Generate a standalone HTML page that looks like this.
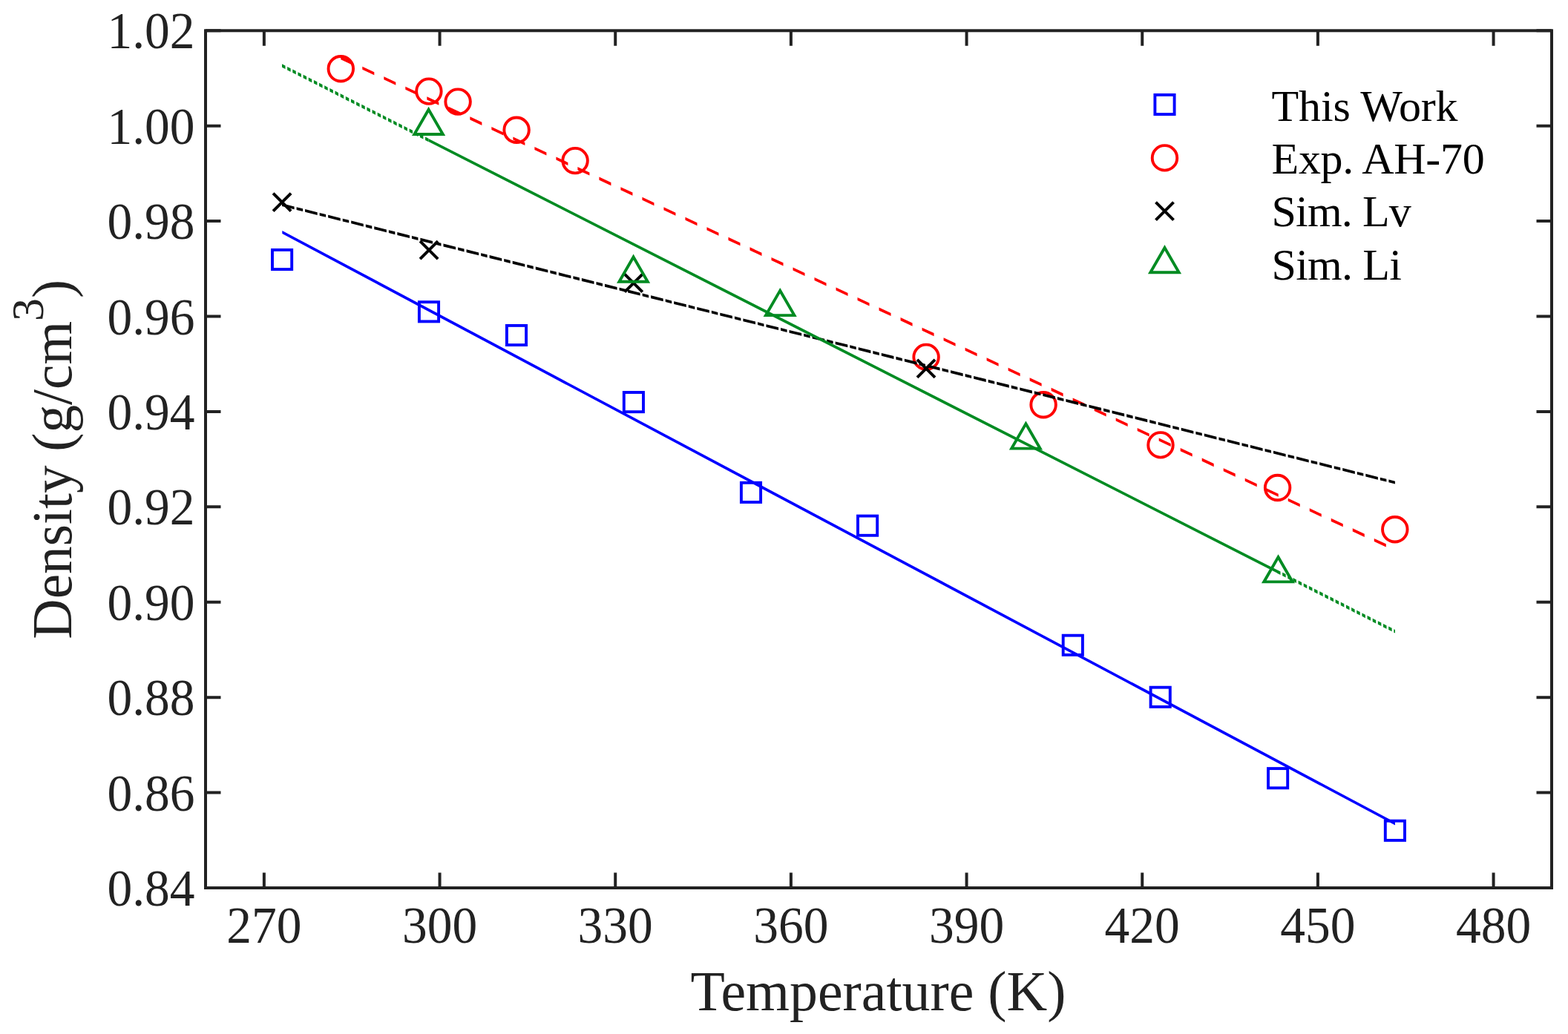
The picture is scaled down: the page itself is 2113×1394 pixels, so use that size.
<!DOCTYPE html>
<html><head><meta charset="utf-8"><title>Density vs Temperature</title>
<style>
html,body{margin:0;padding:0;background:#fff;overflow:hidden;}
svg{display:block;}
text{font-family:"Liberation Serif","Times New Roman",serif;}
</style></head><body>
<svg width="2113" height="1394" viewBox="0 0 2113 1394">
<rect x="0" y="0" width="2113" height="1394" fill="#fff"/>
<g id="s-this-work">
<path fill="#0000ff" d="M380.30 310.90L1880.00 1108.40L1880.00 1112.60L380.30 315.10Z"/>
<rect x="367.00" y="336.90" width="26.20" height="26.20" fill="none" stroke="#0000ff" stroke-width="3.9"/>
<rect x="564.90" y="407.20" width="26.20" height="26.20" fill="none" stroke="#0000ff" stroke-width="3.9"/>
<rect x="682.90" y="438.90" width="26.20" height="26.20" fill="none" stroke="#0000ff" stroke-width="3.9"/>
<rect x="840.80" y="529.00" width="26.20" height="26.20" fill="none" stroke="#0000ff" stroke-width="3.9"/>
<rect x="998.90" y="650.80" width="26.20" height="26.20" fill="none" stroke="#0000ff" stroke-width="3.9"/>
<rect x="1156.00" y="695.60" width="26.20" height="26.20" fill="none" stroke="#0000ff" stroke-width="3.9"/>
<rect x="1432.70" y="856.70" width="26.20" height="26.20" fill="none" stroke="#0000ff" stroke-width="3.9"/>
<rect x="1550.60" y="926.70" width="26.20" height="26.20" fill="none" stroke="#0000ff" stroke-width="3.9"/>
<rect x="1709.00" y="1036.10" width="26.20" height="26.20" fill="none" stroke="#0000ff" stroke-width="3.9"/>
<rect x="1866.80" y="1106.70" width="26.20" height="26.20" fill="none" stroke="#0000ff" stroke-width="3.9"/>
</g>
<g id="s-exp">
<path fill="#ff0000" d="M459.30 76.16L475.30 83.62L475.30 87.71L459.30 80.24ZM488.31 89.69L504.31 97.16L504.31 101.24L488.31 93.78ZM517.32 103.23L533.32 110.70L533.32 114.78L517.32 107.31ZM546.33 116.77L562.33 124.23L562.33 128.31L546.33 120.85ZM575.34 130.30L591.34 137.77L591.34 141.85L575.34 134.39ZM604.35 143.84L620.35 151.30L620.35 155.39L604.35 147.92ZM633.36 157.37L649.36 164.84L649.36 168.92L633.36 161.46ZM662.37 170.91L678.37 178.38L678.37 182.46L662.37 174.99ZM691.38 184.45L707.38 191.91L707.38 195.99L691.38 188.53ZM720.39 197.98L736.39 205.45L736.39 209.53L720.39 202.07ZM749.40 211.52L765.40 218.98L765.40 223.07L749.40 215.60ZM778.41 225.05L794.41 232.52L794.41 236.60L778.41 229.14ZM807.42 238.59L823.42 246.06L823.42 250.14L807.42 242.67ZM836.43 252.13L852.43 259.59L852.43 263.67L836.43 256.21ZM865.44 265.66L881.44 273.13L881.44 277.21L865.44 269.74ZM894.45 279.20L910.45 286.66L910.45 290.75L894.45 283.28ZM923.46 292.73L939.46 300.20L939.46 304.28L923.46 296.82ZM952.47 306.27L968.47 313.74L968.47 317.82L952.47 310.35ZM981.48 319.81L997.48 327.27L997.48 331.35L981.48 323.89ZM1010.49 333.34L1026.49 340.81L1026.49 344.89L1010.49 337.42ZM1039.50 346.88L1055.50 354.34L1055.50 358.43L1039.50 350.96ZM1068.51 360.41L1084.51 367.88L1084.51 371.96L1068.51 364.50ZM1097.52 373.95L1113.52 381.42L1113.52 385.50L1097.52 378.03ZM1126.53 387.49L1142.53 394.95L1142.53 399.03L1126.53 391.57ZM1155.54 401.02L1171.54 408.49L1171.54 412.57L1155.54 405.10ZM1184.55 414.56L1200.55 422.02L1200.55 426.11L1184.55 418.64ZM1213.56 428.09L1229.56 435.56L1229.56 439.64L1213.56 432.18ZM1242.57 441.63L1258.57 449.09L1258.57 453.18L1242.57 445.71ZM1271.58 455.17L1287.58 462.63L1287.58 466.71L1271.58 459.25ZM1300.59 468.70L1316.59 476.17L1316.59 480.25L1300.59 472.78ZM1329.60 482.24L1345.60 489.70L1345.60 493.79L1329.60 486.32ZM1358.61 495.77L1374.61 503.24L1374.61 507.32L1358.61 499.86ZM1387.62 509.31L1403.62 516.77L1403.62 520.86L1387.62 513.39ZM1416.63 522.85L1432.63 530.31L1432.63 534.39L1416.63 526.93ZM1445.64 536.38L1461.64 543.85L1461.64 547.93L1445.64 540.46ZM1474.65 549.92L1490.65 557.38L1490.65 561.47L1474.65 554.00ZM1503.66 563.45L1519.66 570.92L1519.66 575.00L1503.66 567.54ZM1532.67 576.99L1548.67 584.45L1548.67 588.54L1532.67 581.07ZM1561.68 590.52L1577.68 597.99L1577.68 602.07L1561.68 594.61ZM1590.69 604.06L1606.69 611.53L1606.69 615.61L1590.69 608.14ZM1619.70 617.60L1635.70 625.06L1635.70 629.15L1619.70 621.68ZM1648.71 631.13L1664.71 638.60L1664.71 642.68L1648.71 635.22ZM1677.72 644.67L1693.72 652.13L1693.72 656.22L1677.72 648.75ZM1706.73 658.20L1722.73 665.67L1722.73 669.75L1706.73 662.29ZM1735.74 671.74L1751.74 679.21L1751.74 683.29L1735.74 675.82ZM1764.75 685.28L1780.75 692.74L1780.75 696.83L1764.75 689.36ZM1793.76 698.81L1809.76 706.28L1809.76 710.36L1793.76 702.90ZM1822.77 712.35L1838.77 719.81L1838.77 723.90L1822.77 716.43ZM1851.78 725.88L1867.78 733.35L1867.78 737.43L1851.78 729.97Z"/>
<circle cx="459.30" cy="92.80" r="16.75" fill="none" stroke="#ff0000" stroke-width="3.9"/>
<circle cx="577.90" cy="123.10" r="16.75" fill="none" stroke="#ff0000" stroke-width="3.9"/>
<circle cx="617.10" cy="137.10" r="16.75" fill="none" stroke="#ff0000" stroke-width="3.9"/>
<circle cx="696.10" cy="175.20" r="16.75" fill="none" stroke="#ff0000" stroke-width="3.9"/>
<circle cx="775.10" cy="216.60" r="16.75" fill="none" stroke="#ff0000" stroke-width="3.9"/>
<circle cx="1248.10" cy="481.40" r="16.75" fill="none" stroke="#ff0000" stroke-width="3.9"/>
<circle cx="1406.10" cy="545.80" r="16.75" fill="none" stroke="#ff0000" stroke-width="3.9"/>
<circle cx="1564.00" cy="599.90" r="16.75" fill="none" stroke="#ff0000" stroke-width="3.9"/>
<circle cx="1721.60" cy="657.50" r="16.75" fill="none" stroke="#ff0000" stroke-width="3.9"/>
<circle cx="1879.80" cy="713.80" r="16.75" fill="none" stroke="#ff0000" stroke-width="3.9"/>
</g>
<g id="s-lv">
<path fill="#000000" d="M380.00 274.29L396.60 278.44L396.60 282.25L380.00 278.11ZM399.60 279.19L408.07 281.30L408.07 285.11L399.60 283.00ZM411.07 282.05L427.67 286.19L427.67 290.01L411.07 285.86ZM430.67 286.94L439.14 289.05L439.14 292.87L430.67 290.75ZM442.14 289.80L458.74 293.95L458.74 297.76L442.14 293.62ZM461.74 294.70L470.21 296.81L470.21 300.62L461.74 298.51ZM473.21 297.56L489.81 301.70L489.81 305.52L473.21 301.37ZM492.81 302.45L501.28 304.56L501.28 308.38L492.81 306.26ZM504.28 305.31L520.88 309.46L520.88 313.27L504.28 309.13ZM523.88 310.21L532.35 312.32L532.35 316.13L523.88 314.02ZM535.35 313.07L551.95 317.21L551.95 321.03L535.35 316.88ZM554.95 317.96L563.42 320.07L563.42 323.89L554.95 321.77ZM566.42 320.82L583.02 324.97L583.02 328.78L566.42 324.64ZM586.02 325.72L594.49 327.83L594.49 331.64L586.02 329.53ZM597.49 328.58L614.09 332.72L614.09 336.54L597.49 332.39ZM617.09 333.47L625.56 335.59L625.56 339.40L617.09 337.28ZM628.56 336.33L645.16 340.48L645.16 344.29L628.56 340.15ZM648.16 341.23L656.63 343.34L656.63 347.15L648.16 345.04ZM659.63 344.09L676.23 348.23L676.23 352.05L659.63 347.90ZM679.23 348.98L687.70 351.10L687.70 354.91L679.23 352.79ZM690.70 351.84L707.30 355.99L707.30 359.80L690.70 355.66ZM710.30 356.74L718.77 358.85L718.77 362.66L710.30 360.55ZM721.77 359.60L738.37 363.74L738.37 367.56L721.77 363.41ZM741.37 364.49L749.84 366.61L749.84 370.42L741.37 368.30ZM752.84 367.35L769.44 371.50L769.44 375.31L752.84 371.17ZM772.44 372.25L780.91 374.36L780.91 378.17L772.44 376.06ZM783.91 375.11L800.51 379.25L800.51 383.07L783.91 378.92ZM803.51 380.00L811.98 382.12L811.98 385.93L803.51 383.81ZM814.98 382.86L831.58 387.01L831.58 390.82L814.98 386.68ZM834.58 387.76L843.05 389.87L843.05 393.68L834.58 391.57ZM846.05 390.62L862.65 394.76L862.65 398.58L846.05 394.43ZM865.65 395.51L874.12 397.63L874.12 401.44L865.65 399.32ZM877.12 398.37L893.72 402.52L893.72 406.33L877.12 402.19ZM896.72 403.27L905.19 405.38L905.19 409.19L896.72 407.08ZM908.19 406.13L924.79 410.27L924.79 414.09L908.19 409.94ZM927.79 411.02L936.26 413.14L936.26 416.95L927.79 414.84ZM939.26 413.88L955.86 418.03L955.86 421.84L939.26 417.70ZM958.86 418.78L967.33 420.89L967.33 424.70L958.86 422.59ZM970.33 421.64L986.93 425.78L986.93 429.60L970.33 425.45ZM989.93 426.53L998.40 428.65L998.40 432.46L989.93 430.35ZM1001.40 429.39L1018.00 433.54L1018.00 437.35L1001.40 433.21ZM1021.00 434.29L1029.47 436.40L1029.47 440.21L1021.00 438.10ZM1032.47 437.15L1049.07 441.29L1049.07 445.11L1032.47 440.96ZM1052.07 442.04L1060.54 444.16L1060.54 447.97L1052.07 445.86ZM1063.54 444.90L1080.14 449.05L1080.14 452.86L1063.54 448.72ZM1083.14 449.80L1091.61 451.91L1091.61 455.72L1083.14 453.61ZM1094.61 452.66L1111.21 456.80L1111.21 460.62L1094.61 456.47ZM1114.21 457.55L1122.68 459.67L1122.68 463.48L1114.21 461.37ZM1125.68 460.41L1142.28 464.56L1142.28 468.37L1125.68 464.23ZM1145.28 465.31L1153.75 467.42L1153.75 471.23L1145.28 469.12ZM1156.75 468.17L1173.35 472.31L1173.35 476.13L1156.75 471.98ZM1176.35 473.06L1184.82 475.18L1184.82 478.99L1176.35 476.88ZM1187.82 475.93L1204.42 480.07L1204.42 483.88L1187.82 479.74ZM1207.42 480.82L1215.89 482.93L1215.89 486.74L1207.42 484.63ZM1218.89 483.68L1235.49 487.82L1235.49 491.64L1218.89 487.49ZM1238.49 488.57L1246.96 490.69L1246.96 494.50L1238.49 492.39ZM1249.96 491.44L1266.56 495.58L1266.56 499.39L1249.96 495.25ZM1269.56 496.33L1278.03 498.44L1278.03 502.26L1269.56 500.14ZM1281.03 499.19L1297.63 503.33L1297.63 507.15L1281.03 503.00ZM1300.63 504.08L1309.10 506.20L1309.10 510.01L1300.63 507.90ZM1312.10 506.95L1328.70 511.09L1328.70 514.90L1312.10 510.76ZM1331.70 511.84L1340.17 513.95L1340.17 517.77L1331.70 515.65ZM1343.17 514.70L1359.77 518.84L1359.77 522.66L1343.17 518.51ZM1362.77 519.59L1371.24 521.71L1371.24 525.52L1362.77 523.41ZM1374.24 522.46L1390.84 526.60L1390.84 530.41L1374.24 526.27ZM1393.84 527.35L1402.31 529.46L1402.31 533.28L1393.84 531.16ZM1405.31 530.21L1421.91 534.35L1421.91 538.17L1405.31 534.02ZM1424.91 535.10L1433.38 537.22L1433.38 541.03L1424.91 538.92ZM1436.38 537.97L1452.98 542.11L1452.98 545.92L1436.38 541.78ZM1455.98 542.86L1464.45 544.97L1464.45 548.79L1455.98 546.67ZM1467.45 545.72L1484.05 549.86L1484.05 553.68L1467.45 549.53ZM1487.05 550.61L1495.52 552.73L1495.52 556.54L1487.05 554.43ZM1498.52 553.48L1515.12 557.62L1515.12 561.43L1498.52 557.29ZM1518.12 558.37L1526.59 560.48L1526.59 564.30L1518.12 562.18ZM1529.59 561.23L1546.19 565.37L1546.19 569.19L1529.59 565.04ZM1549.19 566.12L1557.66 568.24L1557.66 572.05L1549.19 569.94ZM1560.66 568.99L1577.26 573.13L1577.26 576.94L1560.66 572.80ZM1580.26 573.88L1588.73 575.99L1588.73 579.81L1580.26 577.69ZM1591.73 576.74L1608.33 580.88L1608.33 584.70L1591.73 580.55ZM1611.33 581.63L1619.80 583.75L1619.80 587.56L1611.33 585.45ZM1622.80 584.50L1639.40 588.64L1639.40 592.45L1622.80 588.31ZM1642.40 589.39L1650.87 591.50L1650.87 595.32L1642.40 593.20ZM1653.87 592.25L1670.47 596.39L1670.47 600.21L1653.87 596.06ZM1673.47 597.14L1681.94 599.26L1681.94 603.07L1673.47 600.96ZM1684.94 600.01L1701.54 604.15L1701.54 607.96L1684.94 603.82ZM1704.54 604.90L1713.01 607.01L1713.01 610.83L1704.54 608.71ZM1716.01 607.76L1732.61 611.90L1732.61 615.72L1716.01 611.57ZM1735.61 612.65L1744.08 614.77L1744.08 618.58L1735.61 616.47ZM1747.08 615.52L1763.68 619.66L1763.68 623.47L1747.08 619.33ZM1766.68 620.41L1775.15 622.52L1775.15 626.34L1766.68 624.22ZM1778.15 623.27L1794.75 627.41L1794.75 631.23L1778.15 627.08ZM1797.75 628.16L1806.22 630.28L1806.22 634.09L1797.75 631.98ZM1809.22 631.03L1825.82 635.17L1825.82 638.98L1809.22 634.84ZM1828.82 635.92L1837.29 638.03L1837.29 641.85L1828.82 639.73ZM1840.29 638.78L1856.89 642.92L1856.89 646.74L1840.29 642.60ZM1859.89 643.67L1868.36 645.79L1868.36 649.60L1859.89 647.49ZM1871.36 646.54L1880.00 648.69L1880.00 652.51L1871.36 650.35Z"/>
<path d="M368.10 260.70L392.10 284.70M368.10 284.70L392.10 260.70" fill="none" stroke="#000000" stroke-width="4"/>
<path d="M566.10 325.10L590.10 349.10M566.10 349.10L590.10 325.10" fill="none" stroke="#000000" stroke-width="4"/>
<path d="M841.80 369.70L865.80 393.70M841.80 393.70L865.80 369.70" fill="none" stroke="#000000" stroke-width="4"/>
<path d="M1236.00 484.80L1260.00 508.80M1236.00 508.80L1260.00 484.80" fill="none" stroke="#000000" stroke-width="4"/>
</g>
<g id="s-li">
<path fill="#008b22" d="M380.00 86.26L384.50 88.54L384.50 93.03L380.00 90.74ZM387.15 89.89L391.65 92.18L391.65 96.67L387.15 94.38ZM394.30 93.53L398.80 95.82L398.80 100.30L394.30 98.02ZM401.45 97.16L405.95 99.45L405.95 103.94L401.45 101.65ZM408.60 100.80L413.10 103.09L413.10 107.58L408.60 105.29ZM415.75 104.44L420.25 106.72L420.25 111.21L415.75 108.92ZM422.90 108.07L427.40 110.36L427.40 114.85L422.90 112.56ZM430.05 111.71L434.55 114.00L434.55 118.48L430.05 116.20ZM437.20 115.34L441.70 117.63L441.70 122.12L437.20 119.83ZM444.35 118.98L448.85 121.27L448.85 125.76L444.35 123.47ZM451.50 122.62L456.00 124.90L456.00 129.39L451.50 127.10ZM458.65 126.25L463.15 128.54L463.15 133.03L458.65 130.74ZM465.80 129.89L470.30 132.18L470.30 136.66L465.80 134.38ZM472.95 133.52L477.45 135.81L477.45 140.30L472.95 138.01ZM480.10 137.16L484.60 139.45L484.60 143.94L480.10 141.65ZM487.25 140.80L491.75 143.08L491.75 147.57L487.25 145.28ZM494.40 144.43L498.90 146.72L498.90 151.21L494.40 148.92ZM501.55 148.07L506.05 150.36L506.05 154.84L501.55 152.56ZM508.70 151.70L513.20 153.99L513.20 158.48L508.70 156.19ZM515.85 155.34L520.35 157.63L520.35 162.12L515.85 159.83ZM523.00 158.98L527.50 161.26L527.50 165.75L523.00 163.46ZM530.15 162.61L534.65 164.90L534.65 169.39L530.15 167.10ZM537.30 166.25L541.80 168.54L541.80 173.02L537.30 170.74ZM544.45 169.88L548.95 172.17L548.95 176.66L544.45 174.37ZM551.60 173.52L556.10 175.81L556.10 180.30L551.60 178.01ZM558.75 177.16L563.25 179.44L563.25 183.93L558.75 181.64ZM565.90 180.79L570.40 183.08L570.40 187.57L565.90 185.28ZM573.05 184.43L577.55 186.72L577.55 191.20L573.05 188.92Z"/>
<path fill="#008b22" d="M577.60 186.91L1721.00 768.37L1721.00 772.52L577.60 191.06Z"/>
<path fill="#008b22" d="M1721.00 768.20L1725.50 770.49L1725.50 774.98L1721.00 772.69ZM1728.15 771.84L1732.65 774.12L1732.65 778.61L1728.15 776.32ZM1735.30 775.47L1739.80 777.76L1739.80 782.25L1735.30 779.96ZM1742.45 779.11L1746.95 781.40L1746.95 785.88L1742.45 783.59ZM1749.60 782.74L1754.10 785.03L1754.10 789.52L1749.60 787.23ZM1756.75 786.38L1761.25 788.67L1761.25 793.16L1756.75 790.87ZM1763.90 790.02L1768.40 792.30L1768.40 796.79L1763.90 794.50ZM1771.05 793.65L1775.55 795.94L1775.55 800.43L1771.05 798.14ZM1778.20 797.29L1782.70 799.58L1782.70 804.06L1778.20 801.78ZM1785.35 800.92L1789.85 803.21L1789.85 807.70L1785.35 805.41ZM1792.50 804.56L1797.00 806.85L1797.00 811.34L1792.50 809.05ZM1799.65 808.20L1804.15 810.48L1804.15 814.97L1799.65 812.68ZM1806.80 811.83L1811.30 814.12L1811.30 818.61L1806.80 816.32ZM1813.95 815.47L1818.45 817.76L1818.45 822.24L1813.95 819.96ZM1821.10 819.10L1825.60 821.39L1825.60 825.88L1821.10 823.59ZM1828.25 822.74L1832.75 825.03L1832.75 829.52L1828.25 827.23ZM1835.40 826.38L1839.90 828.66L1839.90 833.15L1835.40 830.86ZM1842.55 830.01L1847.05 832.30L1847.05 836.79L1842.55 834.50ZM1849.70 833.65L1854.20 835.94L1854.20 840.42L1849.70 838.14ZM1856.85 837.28L1861.35 839.57L1861.35 844.06L1856.85 841.77ZM1864.00 840.92L1868.50 843.21L1868.50 847.70L1864.00 845.41ZM1871.15 844.56L1875.65 846.84L1875.65 851.33L1871.15 849.04ZM1878.30 848.19L1880.00 849.06L1880.00 853.54L1878.30 852.68Z"/>
<path d="M577.60 147.70L596.83 181.00L558.37 181.00Z" fill="none" stroke="#008b22" stroke-width="3.9" stroke-linejoin="miter" stroke-miterlimit="10"/>
<path d="M853.60 346.50L872.83 379.80L834.37 379.80Z" fill="none" stroke="#008b22" stroke-width="3.9" stroke-linejoin="miter" stroke-miterlimit="10"/>
<path d="M1051.20 391.80L1070.43 425.10L1031.97 425.10Z" fill="none" stroke="#008b22" stroke-width="3.9" stroke-linejoin="miter" stroke-miterlimit="10"/>
<path d="M1382.40 571.30L1401.63 604.60L1363.17 604.60Z" fill="none" stroke="#008b22" stroke-width="3.9" stroke-linejoin="miter" stroke-miterlimit="10"/>
<path d="M1722.50 751.10L1741.73 784.40L1703.27 784.40Z" fill="none" stroke="#008b22" stroke-width="3.9" stroke-linejoin="miter" stroke-miterlimit="10"/>
</g>
<g id="axes" stroke="#222222" stroke-width="4.0" fill="none">
<rect x="277.0" y="41.3" width="1814.00" height="1155.70" stroke-linejoin="miter"/>
<path d="M355.89 1197.00V1176.50M355.89 41.30V61.80M592.56 1197.00V1176.50M592.56 41.30V61.80M829.23 1197.00V1176.50M829.23 41.30V61.80M1065.90 1197.00V1176.50M1065.90 41.30V61.80M1302.57 1197.00V1176.50M1302.57 41.30V61.80M1539.24 1197.00V1176.50M1539.24 41.30V61.80M1775.91 1197.00V1176.50M1775.91 41.30V61.80M2012.58 1197.00V1176.50M2012.58 41.30V61.80M277.00 1197.00H297.50M2091.00 1197.00H2070.50M277.00 1068.59H297.50M2091.00 1068.59H2070.50M277.00 940.18H297.50M2091.00 940.18H2070.50M277.00 811.77H297.50M2091.00 811.77H2070.50M277.00 683.36H297.50M2091.00 683.36H2070.50M277.00 554.94H297.50M2091.00 554.94H2070.50M277.00 426.53H297.50M2091.00 426.53H2070.50M277.00 298.12H297.50M2091.00 298.12H2070.50M277.00 169.71H297.50M2091.00 169.71H2070.50M277.00 41.30H297.50M2091.00 41.30H2070.50"/>
</g>
<g id="ticklabels" fill="#222222" font-size="67.5px">
<text transform="translate(355.89 1270.8) scale(1 1.035)" text-anchor="middle">270</text>
<text transform="translate(592.56 1270.8) scale(1 1.035)" text-anchor="middle">300</text>
<text transform="translate(829.23 1270.8) scale(1 1.035)" text-anchor="middle">330</text>
<text transform="translate(1065.90 1270.8) scale(1 1.035)" text-anchor="middle">360</text>
<text transform="translate(1302.57 1270.8) scale(1 1.035)" text-anchor="middle">390</text>
<text transform="translate(1539.24 1270.8) scale(1 1.035)" text-anchor="middle">420</text>
<text transform="translate(1775.91 1270.8) scale(1 1.035)" text-anchor="middle">450</text>
<text transform="translate(2012.58 1270.8) scale(1 1.035)" text-anchor="middle">480</text>
<text transform="translate(262.6 1221.00) scale(1 1.035)" text-anchor="end">0.84</text>
<text transform="translate(262.6 1092.59) scale(1 1.035)" text-anchor="end">0.86</text>
<text transform="translate(262.6 964.18) scale(1 1.035)" text-anchor="end">0.88</text>
<text transform="translate(262.6 835.77) scale(1 1.035)" text-anchor="end">0.90</text>
<text transform="translate(262.6 707.36) scale(1 1.035)" text-anchor="end">0.92</text>
<text transform="translate(262.6 578.94) scale(1 1.035)" text-anchor="end">0.94</text>
<text transform="translate(262.6 450.53) scale(1 1.035)" text-anchor="end">0.96</text>
<text transform="translate(262.6 322.12) scale(1 1.035)" text-anchor="end">0.98</text>
<text transform="translate(262.6 193.71) scale(1 1.035)" text-anchor="end">1.00</text>
<text transform="translate(262.6 65.30) scale(1 1.035)" text-anchor="end">1.02</text>
</g>
<text x="1183.5" y="1362" font-size="75.8px" fill="#222222" text-anchor="middle">Temperature (K)</text>
<text transform="translate(96 619.3) rotate(-90)" font-size="75.3px" fill="#222222" text-anchor="middle">Density (g/cm<tspan font-size="62px" dy="-38">3</tspan><tspan dy="38">)</tspan></text>
<g id="legend">
<rect x="1556.40" y="127.90" width="26.20" height="26.20" fill="none" stroke="#0000ff" stroke-width="3.9"/>
<circle cx="1569.50" cy="212.90" r="16.75" fill="none" stroke="#ff0000" stroke-width="3.9"/>
<path d="M1557.50 272.60L1581.50 296.60M1557.50 296.60L1581.50 272.60" fill="none" stroke="#000000" stroke-width="4"/>
<path d="M1569.50 334.00L1588.73 367.30L1550.27 367.30Z" fill="none" stroke="#008b22" stroke-width="3.9" stroke-linejoin="miter" stroke-miterlimit="10"/>
<text x="1713.6" y="162.5" font-size="60px" fill="#000" textLength="251.0" lengthAdjust="spacing">This Work</text>
<text x="1713.6" y="234.0" font-size="60px" fill="#000" textLength="287.1" lengthAdjust="spacing">Exp. AH-70</text>
<text x="1713.6" y="305.2" font-size="60px" fill="#000" textLength="188.1" lengthAdjust="spacing">Sim. Lv</text>
<text x="1713.6" y="376.8" font-size="60px" fill="#000" textLength="175.2" lengthAdjust="spacing">Sim. Li</text>
</g>
</svg>
</body></html>
